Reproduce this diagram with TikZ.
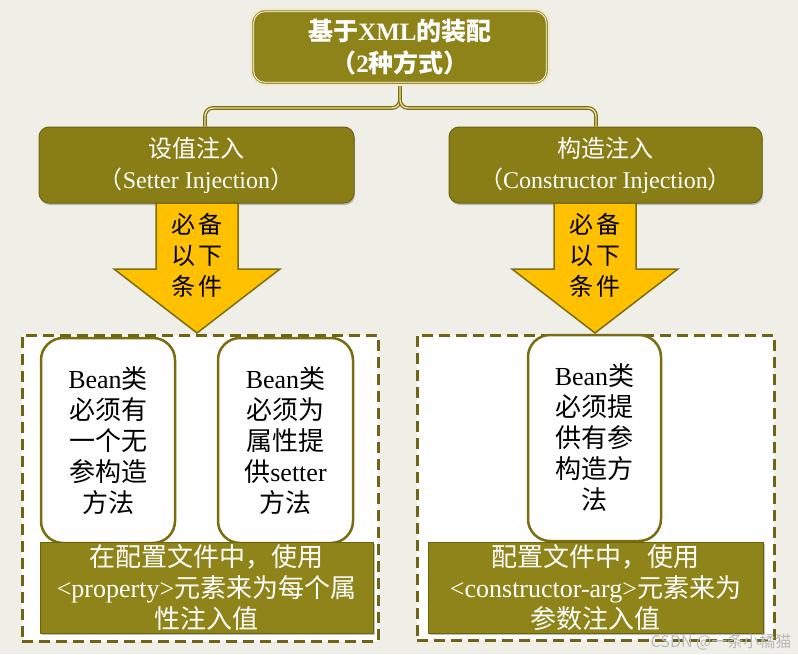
\documentclass[tikz,border=0pt]{standalone}
\usepackage{fontspec}
\setmainfont{Liberation Serif}
\newfontfamily\cjk{Noto Sans CJK SC}
\usepackage{tikz}
\usetikzlibrary{calc}
\usetikzlibrary{positioning}
\usetikzlibrary{shadows}
\usepackage{xcolor}
\definecolor{paper}{HTML}{F0EFE7}
\definecolor{headolive}{HTML}{8E8319}
\definecolor{rimcream}{HTML}{F3E9CF}
\definecolor{wayolive}{HTML}{897D15}
\definecolor{wayline}{HTML}{6E6410}
\definecolor{cfgolive}{HTML}{8F841A}
\definecolor{dashline}{HTML}{6F6414}
\definecolor{condline}{HTML}{7A6D10}
\definecolor{arrowgold}{HTML}{FFC000}
\definecolor{arrowline}{HTML}{7A6E10}
\definecolor{linkdark}{HTML}{7A6E10}
\definecolor{linklight}{HTML}{E6DFA0}
\newcommand{\zh}[1]{{\cjk #1}}

\begin{document}
\begin{tikzpicture}[x=1pt, y=-1pt,
		head/.style = {rectangle, rounded corners=14pt, fill=headolive, draw=rimcream, line width=2.5pt, minimum width=298pt, minimum height=76pt, inner sep=0pt, text=white, align=center, font=\fontsize{25}{32}\selectfont\bfseries},
		way/.style = {rectangle, rounded corners=10pt, fill=wayolive, draw=wayline, line width=1pt, drop shadow={shadow xshift=1pt, shadow yshift=-2pt, opacity=0.5}, minimum height=76pt, inner sep=0pt, text=white, align=center, font=\fontsize{24}{30}\selectfont},
		grp/.style = {rectangle, fill=white, draw=dashline, line width=3pt, dash pattern=on 11pt off 6pt, inner sep=0pt},
		cond/.style = {rectangle, rounded corners=22pt, fill=white, draw=condline, line width=2.5pt, minimum width=134pt, minimum height=205pt, inner sep=0pt, align=center, font=\fontsize{26}{31}\selectfont},
		cfg/.style = {rectangle, fill=cfgolive, draw=wayline, line width=0.8pt, drop shadow={shadow xshift=2pt, shadow yshift=-2pt, opacity=0.5}, minimum height=91pt, inner sep=0pt, text=white, align=center, font=\fontsize{26}{31}\selectfont},
		need/.style = {fill=arrowgold, draw=arrowline, line width=1.5pt, line join=miter},
		link/.style = {draw=linkdark, line width=1.2pt, double=linklight, double distance=1.4pt, rounded corners=8pt}
		]
		
		\useasboundingbox (0,0) rectangle (798,654);
		\fill[paper] (0,0) rectangle (798,654);
		
		%Nodes
		\node[head]	(title)	at	(400,47)	{\zh{基于}XML\zh{的装配}\\\zh{（}2\zh{种方式）}};
		\draw[white, line width=0.8pt, rounded corners=11pt] ($(title.north west)+(4,4)$) rectangle ($(title.south east)+(-4,-4)$);
		\node[way, minimum width=315pt]	(setter)	at	(196.5,165)	{\zh{设值注入}\\[1pt]\zh{（}Setter Injection\zh{）}};
		\node[way, minimum width=313pt]	(ctor)	at	(605.5,165)	{\zh{构造注入}\\[1pt]\zh{（}Constructor Injection\zh{）}};
		
		\node[grp, minimum width=356pt, minimum height=306pt]	(groupL)	at	(200,488)	{};
		\node[grp, minimum width=357pt, minimum height=305pt]	(groupR)	at	(595.5,487.5)	{};
		
		\node[cond]	(noArg)	at	(108,440.5)	{Bean\zh{类}\\\zh{必须有}\\\zh{一个无}\\\zh{参构造}\\\zh{方法}};
		\node[cond, minimum width=135pt]	(setterM)	at	(285.5,440.5)	{Bean\zh{类}\\\zh{必须为}\\\zh{属性提}\\\zh{供}setter\\\zh{方法}};
		\node[cond, minimum width=133pt, minimum height=206pt]	(ctorArg)	at	(594.5,438)	{Bean\zh{类}\\\zh{必须提}\\\zh{供有参}\\\zh{构造方}\\\zh{法}};
		
		\node[cfg, minimum width=333pt]	(cfgL)	at	(206.5,587.5)	{\zh{在配置文件中，使用}\\<property>\zh{元素来为每个属}\\\zh{性注入值}};
		\node[cfg, minimum width=335pt]	(cfgR)	at	(595.5,587.5)	{\zh{配置文件中，使用}\\<constructor-arg>\zh{元素来为}\\\zh{参数注入值}};
		
		%Arrows
		\foreach \c/\n in {197/L, 595/R} {
			\filldraw[need] (\c-41,203) -- (\c-41,269) -- (\c-83,269) -- (\c,333) -- (\c+83,269) -- (\c+41,269) -- (\c+41,203) -- cycle;
			\node[align=center, inner sep=0pt, font=\fontsize{24}{31}\selectfont]	(need\n)	at	(\c,255)	{\zh{必\hspace{4pt}备}\\\zh{以\hspace{4pt}下}\\\zh{条\hspace{4pt}件}};
		}
		
		%Lines
		\coordinate (jl) at (205,108);
		\coordinate (jr) at (596,108);
		\draw[link]	(title.south)	|-	(jl)	--	(jl |- setter.north);
		\draw[link]	(title.south)	|-	(jr)	--	(jr |- ctor.north);
		
		\node[text=gray!55, font=\cjk\fontsize{16}{16}\selectfont]	(mark)	at	(721,642)	{CSDN @一条小橘猫};
	\end{tikzpicture}
\end{document}
